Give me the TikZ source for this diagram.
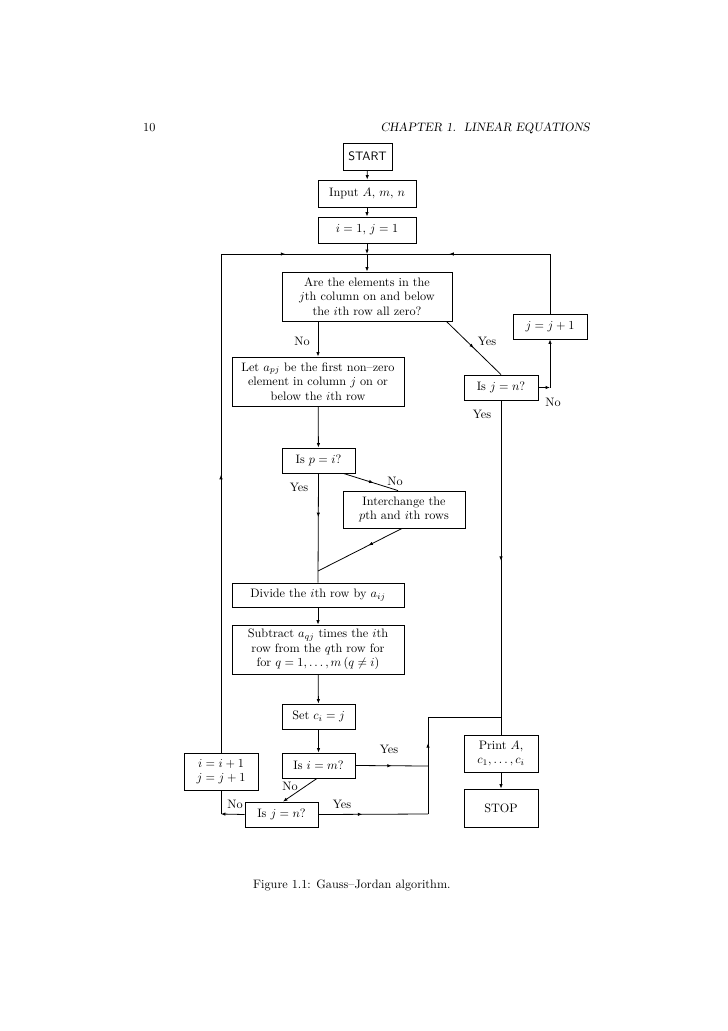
\documentclass[tikz,border=0pt]{standalone}
\usetikzlibrary{arrows.meta,decorations.markings,calc}
\newcommand\pxu{0.8177pt}
\tikzset{
  box/.style={draw,line width=0.7pt,rectangle,inner sep=1pt,align=center,font=\normalsize},
  lbl/.style={inner sep=0pt,font=\normalsize},
  ln/.style={line width=0.65pt},
  ar/.style={ln,-{Latex[length=3.6pt,width=2.8pt]}},
  marr/.style={ln,postaction={decorate},decoration={markings,mark=at position #1 with {\arrow{Latex[length=3.6pt,width=2.8pt]}}}}
}
\begin{document}
\begin{tikzpicture}[x=0.8177pt,y=-0.8177pt]
\useasboundingbox (0,0) rectangle (728,1031);
% header
\node[lbl,anchor=west] (pgno) at (143,128) {10};
\node[lbl,anchor=east] (head) at (590,128) {\slshape CHAPTER 1.\ \ LINEAR EQUATIONS};
% boxes
\node[box,minimum width=49*\pxu,minimum height=27*\pxu] (start) at (367.5,156.5) {\sffamily START};
\node[box,minimum width=98*\pxu,minimum height=27*\pxu] (input) at (367,193.5) {Input $A$, $m$, $n$};
\node[box,minimum width=98*\pxu,minimum height=26*\pxu] (init) at (367,230) {$i=1$, $j=1$};
\node[box,minimum width=170*\pxu,minimum height=49*\pxu] (q) at (367,296.5) {Are the elements in the\\ $j$th column on and below\\ the $i$th row all zero?};
\node[box,minimum width=74*\pxu,minimum height=25*\pxu] (jinc) at (550,326.5) {$j=j+1$};
\node[box,minimum width=172*\pxu,minimum height=49*\pxu] (let) at (318,381.5) {Let $a_{pj}$ be the first non--zero\\ element in column $j$ on or\\ below the $i$th row};
\node[box,minimum width=74*\pxu,minimum height=25*\pxu] (jn1) at (501,387.5) {Is $j=n$?};
\node[box,minimum width=73*\pxu,minimum height=25*\pxu] (pi) at (318.5,460.5) {Is $p=i$?};
\node[box,minimum width=122*\pxu,minimum height=37*\pxu] (swap) at (404,509.5) {Interchange the\\ $p$th and $i$th rows};
\node[box,minimum width=172*\pxu,minimum height=24*\pxu] (divide) at (318,595) {Divide the $i$th row by $a_{ij}$};
\node[box,minimum width=172*\pxu,minimum height=49*\pxu] (sub) at (318,649.5) {Subtract $a_{qj}$ times the $i$th\\ row from the $q$th row for\\ for $q=1,\ldots,m\,(q\neq i)$};
\node[box,minimum width=73*\pxu,minimum height=25*\pxu] (setc) at (318.5,716.5) {Set $c_i=j$};
\node[box,minimum width=73*\pxu,minimum height=25*\pxu] (im) at (318.5,765.5) {Is $i=m$?};
\node[box,minimum width=74*\pxu,minimum height=37*\pxu] (iinc) at (221,771.5) {$i=i+1$\\ $j=j+1$};
\node[box,minimum width=73*\pxu,minimum height=25*\pxu] (jn2) at (281.5,814.5) {Is $j=n$?};
\node[box,minimum width=74*\pxu,minimum height=37*\pxu] (print) at (501,753.5) {Print $A$,\\ $c_1,\ldots,c_i$};
\node[box,minimum width=74*\pxu,minimum height=38*\pxu] (stop) at (501,808) {STOP};
% coordinates
\coordinate (TL) at (221,254);
\coordinate (TC) at (367,254);
\coordinate (TR) at (550,254);
\coordinate (jncorner) at (550,387.5);
\coordinate (merge) at (318,571);
\coordinate (RJ) at (428,766);
\coordinate (RJ2) at (428,814);
\coordinate (RJtop) at (428,717);
\coordinate (RV) at (501,717);
\coordinate (LB) at (221,814);
% connectors
\draw[ar] (start) -- (input);
\draw[ar] (input) -- (init);
\draw[ar] (init) -- (TC);
\draw[ar] (TC) -- (q);
\draw[marr=0.44] (TL) -- (TC);
\draw[marr=0.55] (TR) -- (TC);
\draw[ln] (jinc.north) -- (TR);
\draw[marr=0.557] (iinc.north) -- (TL);
\draw[ar] (q.south -| let.north) -- (let.north);
\draw[marr=0.5] ($(q.south east)+(-6,0)$) -- (jn1.north);
\draw[ar] (jn1.east) -- (jncorner);
\draw[ar] (jncorner) -- (jinc.south);
\draw[marr=0.48] (jn1.south) -- (print.north);
\draw[ar] (let) -- (pi);
\draw[marr=0.4] (pi.south) -- (divide.north);
\draw[marr=0.55] ($(pi.south east)+(-12,0)$) -- ($(swap.north)+(-6,0)$);
\draw[marr=0.4] ($(swap.south)+(-2,0)$) -- (merge);
\draw[ar] (divide) -- (sub);
\draw[ar] (sub) -- (setc);
\draw[ar] (setc) -- (im);
\draw[marr=0.5] (im.east) -- (RJ);
\draw[ar] ($(im.south)+(-1.5,0)$) -- ($(jn2.north)+(1.5,0)$);
\draw[ar] (jn2.west) -- (LB);
\draw[ln] (LB) -- (iinc.south);
\draw[marr=0.4] (jn2.east) -- (RJ2);
\draw[marr=0.73] (RJ2) -- (RJtop);
\draw[ln] (RJtop) -- (RV);
\draw[ar] (print) -- (stop);
% labels
\node[lbl] (lNo1) at (302,341) {No};
\node[lbl] (lYes1) at (487,341) {Yes};
\node[lbl] (lNo2) at (553,402) {No};
\node[lbl] (lYes2) at (482,414) {Yes};
\node[lbl] (lYes3) at (299,487) {Yes};
\node[lbl] (lNo3) at (395,481) {No};
\node[lbl] (lYes4) at (389,749) {Yes};
\node[lbl] (lNo4) at (290,786) {No};
\node[lbl] (lNo5) at (235,804) {No};
\node[lbl] (lYes5) at (342,804) {Yes};
% caption
\node[lbl,anchor=west] (cap) at (253,885) {Figure 1.1: Gauss--Jordan algorithm.};
\end{tikzpicture}
\end{document}
